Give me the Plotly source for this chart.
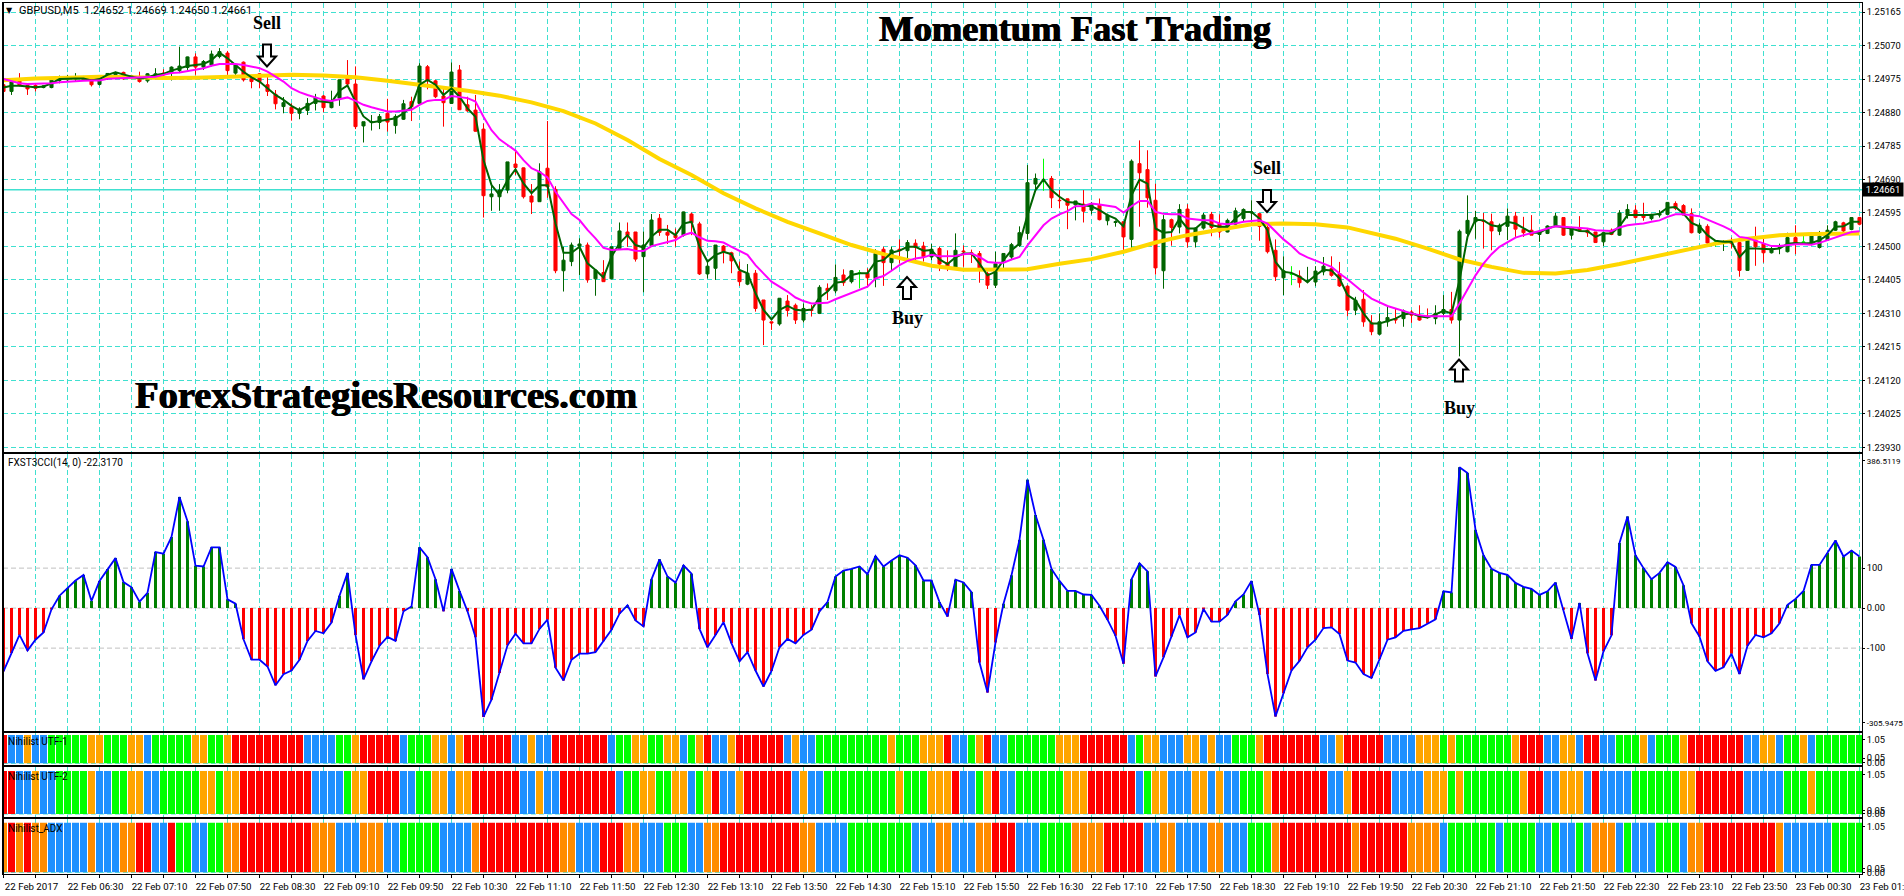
import plotly.graph_objects as go

# prices are stored in points (1e-5)
OPEN = [124959,124940,124970,124957,124957,124951,124951,124971,124973,124975,
124973,124977,124960,124977,124987,124994,124980,124980,124970,124982,
124992,124992,124999,125008,125038,125009,125015,125039,125049,124992,
125023,124977,124990,124959,124932,124897,124895,124878,124886,124906,
124927,124894,124921,124982,124961,124842,124852,124852,124878,124843,
124861,124911,124906,125010,124970,124927,124906,125001,124902,
124887,124833,124641,124641,124660,124734,124723,124643,124627,124722,
124662,124431,124457,124501,124504,124408,124426,124408,124494,124541,
124541,124471,124502,124580,124540,124532,124532,124592,124564,124422,
124438,124501,124482,124429,124393,124424,124348,124286,124280,124345,
124333,124291,124321,124310,124381,124374,124419,124400,124425,124424,
124409,124492,124454,124492,124488,124509,124501,124470,124494,124454,
124439,124487,124482,124480,124423,124390,124459,124470,124503,124537,
124677,124690,124693,124631,124635,124618,124620,124603,124617,124573,
124568,124570,124520,124735,124718,124631,124431,124576,124555,124606,
124513,124552,124591,124565,124541,124563,124579,124595,124593,124554,
124489,124411,124423,124416,124399,124399,124428,124437,124423,124387,
124319,124350,124283,124251,124286,124295,124295,124314,124305,124302,
124295,124310,124321,124291,124537,124570,124574,124570,124543,124557,
124586,124548,124546,124534,124537,124560,124582,124532,124551,124546,
124541,124513,124546,124532,124589,124603,124589,124579,124589,124591,
124622,124616,124593,124539,124557,124513,124510,124513,124511,124432,
124518,124508,124482,124497,124485,124525,124513,124506,124497,124518,
124546,124567,124548,124582]
HIGH = [124963,124970,124992,124959,124963,124957,124977,124985,124987,124992,
124984,124980,124977,124992,124996,124996,124987,124996,124992,125006,
125003,125011,125067,125039,125048,125029,125056,125063,125055,125020,
125025,124980,124992,124982,124944,124924,124906,124895,124921,124933,
124930,124942,124973,125029,125011,124854,124873,124876,124919,124875,
124916,124925,125020,125015,124973,124954,125022,125015,124925,
124930,124849,124679,124677,124740,124769,124724,124677,124736,124856,
124671,124499,124511,124523,124511,124433,124461,124499,124568,124568,
124541,124542,124592,124592,124561,124551,124599,124596,124570,124461,
124504,124504,124485,124457,124450,124433,124348,124286,124353,124362,
124338,124338,124334,124390,124395,124449,124435,124433,124433,124438,
124492,124499,124499,124520,124518,124520,124513,124507,124499,124489,
124537,124503,124491,124487,124428,124485,124480,124510,124557,124731,
124707,124749,124700,124660,124636,124629,124660,124626,124636,124593,
124574,124570,124747,124801,124773,124678,124589,124579,124620,124620,
124554,124595,124598,124591,124579,124610,124608,124631,124595,124560,
124520,124472,124444,124432,124442,124444,124470,124472,124456,124390,
124357,124376,124305,124310,124328,124324,124321,124319,124333,124324,
124333,124362,124371,124548,124645,124601,124595,124593,124565,124608,
124598,124584,124589,124546,124560,124595,124582,124556,124586,124551,
124541,124541,124551,124603,124620,124617,124624,124593,124603,124626,
124628,124620,124608,124567,124563,124518,124518,124525,124513,124522,
124556,124532,124499,124508,124539,124560,124532,124541,124544,124560,
124573,124570,124582,124584]
LOW = [124940,124930,124954,124930,124940,124949,124949,124963,124968,124968,
124971,124954,124957,124973,124980,124973,124975,124965,124965,124975,
124973,124971,124992,125001,124987,125001,125011,125034,124987,124987,
124968,124949,124949,124927,124889,124878,124857,124861,124873,124886,
124881,124892,124899,124959,124833,124795,124829,124833,124826,124820,
124859,124856,124902,124946,124921,124840,124905,124888,124882,
124826,124582,124601,124601,124651,124703,124636,124592,124627,124638,
124424,124372,124444,124419,124397,124360,124400,124407,124490,124499,
124457,124370,124499,124530,124507,124499,124528,124532,124419,124409,
124405,124452,124424,124388,124390,124315,124220,124263,124275,124301,
124280,124284,124301,124308,124348,124367,124388,124395,124381,124386,
124384,124388,124433,124452,124461,124461,124457,124461,124430,124430,
124437,124442,124453,124397,124379,124382,124432,124461,124499,124520,
124660,124658,124609,124608,124549,124574,124568,124591,124574,124560,
124556,124489,124494,124556,124610,124420,124380,124502,124537,124497,
124497,124548,124529,124525,124540,124560,124570,124565,124516,124480,
124402,124362,124390,124383,124395,124387,124418,124414,124385,124302,
124305,124272,124248,124248,124272,124281,124272,124283,124289,124295,
124279,124305,124281,124188,124527,124522,124494,124489,124532,124518,
124527,124527,124532,124513,124535,124556,124530,124520,124541,124527,
124510,124501,124532,124530,124579,124579,124573,124574,124582,124591,
124603,124589,124537,124535,124508,124499,124487,124494,124414,124431,
124445,124454,124480,124478,124483,124478,124508,124503,124494,124516,
124544,124541,124546,124560]
CLOSE = [124940,124967,124957,124947,124949,124956,124975,124980,124982,124982,
124980,124959,124975,124991,124992,124976,124985,124968,124990,124990,
124987,125009,125012,125038,125009,125025,125046,125053,124999,125015,
124973,124968,124968,124940,124905,124908,124878,124890,124906,124923,
124894,124909,124973,124961,124840,124854,124854,124869,124853,124869,
124905,124897,125012,124971,124925,124908,124995,124888,124885,
124827,124644,124649,124660,124740,124724,124641,124626,124712,124669,
124431,124461,124504,124507,124405,124433,124400,124499,124544,124531,
124464,124504,124575,124540,124532,124525,124598,124567,124422,124444,
124504,124485,124459,124400,124424,124324,124291,124283,124353,124318,
124291,124324,124318,124384,124374,124412,124397,124431,124424,124411,
124480,124454,124490,124488,124511,124497,124471,124492,124450,124444,
124489,124485,124478,124437,124390,124451,124480,124505,124539,124681,
124693,124688,124638,124630,124617,124629,124600,124620,124576,124589,
124570,124527,124742,124709,124638,124439,124576,124554,124605,124513,
124552,124589,124554,124541,124574,124601,124605,124598,124557,124485,
124414,124431,124421,124397,124404,124430,124444,124418,124388,124319,
124347,124286,124258,124286,124298,124291,124317,124305,124291,124298,
124310,124321,124291,124543,124574,124582,124571,124544,124560,124586,
124549,124539,124532,124543,124558,124586,124532,124551,124544,124539,
124511,124539,124534,124595,124605,124582,124582,124591,124593,124625,
124608,124589,124539,124560,124510,124508,124513,124508,124432,124518,
124499,124482,124494,124499,124525,124508,124510,124532,124529,124546,
124570,124544,124582,124563]
DOJI_BARS = [107, 130, 161, 214, 225]

FAST_MA = [124951,124956,124956,124954,124952,124954,124963,124975,124977,124977,
124977,124971,124975,124987,124994,124987,124982,124977,124980,124987,
124990,124999,125006,125012,125015,125018,125029,125050,125034,125015,
124996,124980,124968,124949,124930,124916,124899,124886,124899,124913,
124911,124909,124942,124957,124911,124869,124852,124856,124861,124864,
124878,124897,124959,124973,124959,124930,124949,124925,124892,
124868,124745,124674,124646,124688,124719,124679,124651,124674,124674,
124565,124482,124482,124499,124452,124433,124412,124471,124509,124532,
124504,124497,124528,124547,124547,124532,124565,124570,124499,124457,
124476,124485,124478,124433,124424,124367,124320,124293,124320,124331,
124320,124318,124321,124355,124372,124397,124400,124419,124424,124424,
124457,124461,124482,124488,124499,124499,124488,124490,
124463,124450,124469,124480,124480,124451,124418,124428,124461,124489,
124508,124589,124660,124690,124660,124641,124626,124624,124617,124614,
124603,124589,124579,124557,124645,124690,124678,124551,124539,124541,
124579,124551,124551,124570,124560,124556,124556,124579,124598,124598,
124579,124546,124456,124428,124425,124414,124399,124418,124434,124432,
124409,124362,124347,124310,124281,124281,124289,124295,
124307,124310,124302,124298,124307,124317,124310,124404,124527,124576,
124574,124560,124556,124570,124565,124551,124539,124539,124551,124558,
124554,124551,124544,124543,124527,124537,124537,124557,124589,124589,
124589,124589,124593,124610,124612,124593,124567,124557,124532,124516,
124513,124513,124470,124494,124494,124492,124492,124494,124508,124510,
124508,124510,124518,124532,124556,124557,124570,124570]
SLOW_MA = [124975,124968,124963,124961,124961,124961,124963,124966,124968,124968,
124970,124971,124971,124976,124977,124979,124980,124980,124980,124982,
124987,124992,124994,124998,125003,125006,125013,125018,125018,125018,
125015,125011,125006,124996,124982,124968,124949,124938,124930,124924,
124916,124913,124918,124923,124913,124902,124895,124889,124883,124883,
124885,124888,124902,124913,124916,124916,124927,124925,124921,
124911,124868,124830,124804,124788,124772,124745,124722,124712,124696,
124655,124622,124592,124575,124547,124523,124496,124490,124492,124493,
124488,124487,124501,124507,124512,124518,124532,124539,124526,124516,
124515,124511,124499,124488,124476,124447,124424,124400,124386,124372,
124355,124345,124338,124338,124340,124350,124359,124369,124378,124386,
124409,124416,124431,124447,124459,124466,124469,124476,
124472,124472,124473,124478,124480,124470,124456,124454,124454,124463,
124470,124503,124532,124560,124579,124591,124600,124614,124615,124622,
124619,124615,124612,124596,124614,124629,124629,124598,124593,124591,
124591,124579,124576,124574,124574,124565,124563,124565,124570,124573,
124574,124565,124541,124520,124502,124480,124469,124459,124451,124442,
124423,124407,124387,124369,124352,124341,124331,124324,
124316,124310,124305,124302,124302,124302,124302,124338,124380,124418,
124451,124478,124499,124513,124525,124532,124537,124544,124551,124557,
124556,124554,124554,124551,124546,124544,124544,124554,124560,124563,
124565,124570,124574,124584,124591,124591,124589,124586,124576,124567,
124557,124546,124527,124524,124516,124508,124501,124501,124504,124506,
124506,124505,124510,124518,124525,124532,124541,124543]
BASE_BARS = [0,4,8,12,16,20,24,28,32,36,40,44,48,52,56,58,62,66,70,74,78,82,86,90,94,98,102,106,110,114,116,
120,124,128,132,136,140,144,148,152,156,160,164,168,172,174,178,182,186,190,194,198,202,206,210,214,218,222,226,230,232]
BASE_MA = [124972,124977,124979,124982,124980,124978,124979,124982,124985,124987,124985,124980,124970,124959,124949,124942,
124928,124909,124884,124849,124802,124748,124703,124651,124608,124570,124537,124504,124478,124457,124445,
124434,124434,124435,124451,124464,124485,124511,124532,124548,124563,124565,124563,124554,124534,124522,
124494,124463,124442,124425,124423,124433,124450,124470,124489,124508,124522,124532,124535,124537,124537]

CCI = [-158,-112,-67,-106,-79,-61,-3,31,50,69,83,18,68,98,125,65,52,16,38,140,
136,178,278,217,106,104,152,152,22,11,-78,-129,-129,-146,-193,-165,-156,-129,-82,-57,
-63,-36,31,88,-67,-178,-133,-94,-72,-82,-8,4,152,127,72,-8,98,43,-8,-73,
-272,-229,-162,-93,-64,-88,-88,-52,-29,-149,-181,-129,-114,-114,-110,-83,-54,-14,7,-31,
-46,72,122,79,64,107,86,-52,-98,-67,-35,-88,-133,-110,-156,-196,-157,-98,-77,-88,
-67,-54,-8,15,79,94,98,104,85,130,104,119,132,126,107,69,69,15,-21,71,
64,40,-136,-211,-86,11,82,171,321,233,171,98,68,43,43,34,33,6,-29,-69,
-139,72,112,92,-171,-123,-71,-18,-73,-61,-2,-34,-34,-17,17,34,68,-17,-165,-271,
-213,-156,-132,-98,-79,-50,-48,-65,-131,-136,-165,-175,-128,-79,-73,-57,-53,-50,-39,-28,
42,39,352,338,196,132,98,88,83,63,53,48,33,42,64,-4,-77,13,-113,-181,
-108,-68,163,229,132,100,72,88,115,103,57,-38,-71,-133,-157,-148,-114,-165,-94,-67,
-73,-63,-38,8,23,43,108,108,138,169,129,144,129]

UTF1 = ("RBBOBBLLLL" "LOOLLLOOBL" "LLLLOOLLOR" "RRRRRRRRBB" "BBLLORRRRR" "BLLLOOBORR"
        "RRRRBBOBBR" "RRRRRRBLLO" "OLLOOBLORB" "BORRRRRRBO" "BBLLLLLLLL" "LOLLLOOORB"
        "BLORBBLLLL" "LLOOORRRRR" "RBLOOBBBOO" "BOBBLLLORR" "RRRRRBBORR" "RRRBBBBOOO"
        "LOLLLLLLLO" "RRRBBOOBRR" "BBLLLOBLLL" "ORRRRRRRBB" "OOBLLOBLLL" "LLL")
UTF2 = ("RRBBOBBLLL" "LOBBLLOOBB" "LLLLLOOLOO" "RRRRRRRRRB" "BBBLOORRRR" "BBLLOOBOOR"
        "RRRRRBBOBB" "RRRRRRRBLL" "OOLLOOBLOR" "BBORRRRRRB" "OBBLLLLLLL" "LLOLLLOOOR"
        "BBLORBBLLL" "LLLOOORRRR" "RRBLOOBBBO" "OBOBBLLLOR" "RRRRRRBBOR" "RRRRBBBBOO"
        "OLOLLLLLLL" "ORRBBOOOBR" "BBBBLLLLLL" "OORRRRRRBB" "BBBLLLOLLL" "LLL")
ADX = ("OROROOBBBB" "BOBBBOORRB" "BRLLBBLLOO" "RRRRRRRRRO" "OOBBBOOOBB" "LLLLLBBBBO"
       "RRRRRRRRRR" "OOBBBRRROO" "BBBLLLBBOO" "RRRRRRRRRR" "OOBBBBLLLL" "LLLLBBBOOB"
       "BBOORRRBBB" "LLLLOOOORR" "RRRBBOOBBB" "BOOBBBLLLO" "RRRRRRRRRO" "RRRRRROOOO"
       "BLLLLLLBLL" "LLBBLBBLBO" "OOBLBBBLLL" "BOORRRRRRR" "RROBBBBBBL" "LLL")
STRIP_TOP = 1.05
STRIP_BASE = 0.05

TIME_LABELS = ["22 Feb 2017","22 Feb 06:30","22 Feb 07:10","22 Feb 07:50","22 Feb 08:30","22 Feb 09:10",
"22 Feb 09:50","22 Feb 10:30","22 Feb 11:10","22 Feb 11:50","22 Feb 12:30","22 Feb 13:10","22 Feb 13:50",
"22 Feb 14:30","22 Feb 15:10","22 Feb 15:50","22 Feb 16:30","22 Feb 17:10","22 Feb 17:50","22 Feb 18:30",
"22 Feb 19:10","22 Feb 19:50","22 Feb 20:30","22 Feb 21:10","22 Feb 21:50","22 Feb 22:30","22 Feb 23:10",
"22 Feb 23:50","23 Feb 00:30","23 Feb 01:10"]
PRICE_TICKS = [1.25165,1.25070,1.24975,1.24880,1.24785,1.24690,1.24595,1.24500,1.24405,1.24310,1.24215,1.24120,1.24025,1.23930]
LAST_PRICE = 1.24661

for name, arr in dict(OPEN=OPEN,HIGH=HIGH,LOW=LOW,CLOSE=CLOSE,FAST_MA=FAST_MA,SLOW_MA=SLOW_MA,CCI=CCI,UTF1=UTF1,UTF2=UTF2,ADX=ADX).items():
    if len(arr) != 233:
        raise SystemExit(f"{name} has {len(arr)}")
if len(BASE_BARS) != len(BASE_MA):
    raise SystemExit(f"base {len(BASE_BARS)} {len(BASE_MA)}")

N = 233
X = list(range(N))
pr = lambda a: [v / 1e5 for v in a]
TURQ = "#40E0D0"
DGREEN = "#006400"
COLORS_A = {"R": "#FF0000", "B": "#1E90FF", "O": "#FFA500", "L": "#00FF00"}
COLORS_B = {"R": "#FF0000", "B": "#1E90FF", "O": "#FF8C00", "L": "#00FF00"}
FONT = "Roboto, Liberation Sans, sans-serif"
W, H = 1904, 896
dom = lambda top, bot: [1 - bot / H, 1 - top / H]

fig = go.Figure()
normal = [i for i in X if i not in DOJI_BARS]
fig.add_trace(go.Candlestick(
    x=normal, open=[OPEN[i]/1e5 for i in normal], high=[HIGH[i]/1e5 for i in normal],
    low=[LOW[i]/1e5 for i in normal], close=[CLOSE[i]/1e5 for i in normal],
    increasing=dict(line=dict(color=DGREEN, width=1), fillcolor=DGREEN),
    decreasing=dict(line=dict(color="#FF0000", width=1), fillcolor="#FF0000"),
    whiskerwidth=0, xaxis="x", yaxis="y", showlegend=False))
fig.add_trace(go.Candlestick(
    x=DOJI_BARS, open=[OPEN[i]/1e5 for i in DOJI_BARS], high=[HIGH[i]/1e5 for i in DOJI_BARS],
    low=[LOW[i]/1e5 for i in DOJI_BARS], close=[CLOSE[i]/1e5 for i in DOJI_BARS],
    increasing=dict(line=dict(color="#00FF00", width=1), fillcolor="#00FF00"),
    decreasing=dict(line=dict(color="#00FF00", width=1), fillcolor="#00FF00"),
    whiskerwidth=0, xaxis="x", yaxis="y", showlegend=False))
fig.add_trace(go.Scatter(x=BASE_BARS, y=pr(BASE_MA), mode="lines", line=dict(color="#FFD700", width=4), xaxis="x", yaxis="y", showlegend=False))
fig.add_trace(go.Scatter(x=X, y=pr(FAST_MA), mode="lines", line=dict(color=DGREEN, width=2), xaxis="x", yaxis="y", showlegend=False))
fig.add_trace(go.Scatter(x=X, y=pr(SLOW_MA), mode="lines", line=dict(color="#FF00FF", width=2), xaxis="x", yaxis="y", showlegend=False))

fig.add_trace(go.Bar(x=X, y=CCI, width=0.375, marker=dict(color=["#008000" if v > 0 else "#FF0000" for v in CCI], line_width=0),
                     xaxis="x2", yaxis="y2", showlegend=False))
fig.add_trace(go.Scatter(x=X, y=CCI, mode="lines", line=dict(color="#0000FF", width=1.8), xaxis="x2", yaxis="y2", showlegend=False))

for i, (codes, cmap) in enumerate([(UTF1, COLORS_A), (UTF2, COLORS_A), (ADX, COLORS_B)]):
    fig.add_trace(go.Bar(x=X, y=[STRIP_TOP - STRIP_BASE] * N, base=STRIP_BASE, width=0.875,
                         marker=dict(color=[cmap[c] for c in codes], line_width=0),
                         xaxis=f"x{i+3}", yaxis=f"y{i+3}", showlegend=False))

gridticks = list(range(0, N, 4))
ticktext = [TIME_LABELS[k // 8] if k % 8 == 0 else "" for k in gridticks]
xrange = [(3 - 3.5) / 8, (1862 - 3.5) / 8]
xbase = dict(range=xrange, tickmode="array", tickvals=gridticks, ticktext=[""] * len(gridticks),
             showgrid=True, gridcolor=TURQ, griddash="5px,3px", gridwidth=1, zeroline=False, automargin=False,
             showline=True, linecolor="black", linewidth=1, mirror=True, ticks="", domain=[3 / W, 1862 / W],
             rangeslider=dict(visible=False), showticklabels=False)
ybase = dict(side="right", showline=True, linecolor="black", linewidth=1, mirror=True, ticks="outside", ticklen=2, automargin=False,
             tickcolor="black", zeroline=False, tickfont=dict(family=FONT, size=9.3, color="black"), showgrid=False)

layout = dict(width=W, height=H, margin=dict(l=0, r=0, t=0, b=0), paper_bgcolor="white", plot_bgcolor="white",
              barmode="overlay", boxgap=0.45, autosize=False, hovermode=False, showlegend=False)
layout["xaxis"] = dict(xbase, anchor="y")
layout["xaxis2"] = dict(xbase, anchor="y2", matches="x")
layout["xaxis3"] = dict(xbase, anchor="y3", matches="x")
layout["xaxis4"] = dict(xbase, anchor="y4", matches="x")
layout["xaxis5"] = dict(xbase, anchor="y5", matches="x", ticks="outside", ticklen=3, tickcolor="black",
                        showticklabels=True, ticktext=ticktext, ticklabelshift=28, ticklabeloverflow="allow",
                        tickangle=0, tickfont=dict(family=FONT, size=9.7, color="black"))
layout["yaxis"] = dict(ybase, domain=dom(3, 451.5), range=[1.239179, 1.25191], anchor="x", tickmode="array",
                       tickvals=PRICE_TICKS, ticktext=[f"{v:.5f}" for v in PRICE_TICKS],
                       showgrid=True, gridcolor=TURQ, griddash="5px,3px", gridwidth=1)
SMALL = '<span style="font-size:8px">{}</span>'
layout["yaxis2"] = dict(ybase, domain=dom(453.5, 730.5), range=[-305.9475, 386.5119], anchor="x2", tickmode="array",
                        tickvals=[369, 100, 0, -100, -286.8],
                        ticktext=[SMALL.format("386.5119"), "100", "0.00", "-100", SMALL.format("-305.9475")])
layout["yaxis3"] = dict(ybase, domain=dom(732.7, 765.3), range=[-0.02, 1.131], anchor="x3", tickmode="array",
                        tickvals=[0.884, 0.237, 0.07], ticktext=["1.05", "0.05", "0.00"])
layout["yaxis4"] = dict(ybase, domain=dom(767.3, 816.7), range=[-0.013, 1.136], anchor="x4", tickmode="array",
                        tickvals=[0.973, 0.127, 0.05], ticktext=["1.05", "0.05", "0.00"])
layout["yaxis5"] = dict(ybase, domain=dom(819.3, 874.3), range=[0.01, 1.119], anchor="x5", tickmode="array",
                        tickvals=[0.97, 0.13, 0.05], ticktext=["1.05", "0.05", "0.00"])
fig.update_layout(**layout)

shapes = [dict(type="line", xref="x", yref="y", x0=xrange[0], x1=xrange[1], y0=LAST_PRICE, y1=LAST_PRICE,
               line=dict(color=TURQ, width=1.5), layer="between")]
for lv in (100, 0, -100):
    shapes.append(dict(type="line", xref="x2", yref="y2", x0=xrange[0], x1=xrange[1], y0=lv, y1=lv,
                       line=dict(color="#C0C0C0", width=1, dash="5px,3px"), layer="between"))
for n in (3, 4, 5):
    shapes.append(dict(type="line", xref=f"x{n}", yref=f"y{n}", x0=xrange[0], x1=xrange[1], y0=STRIP_BASE, y1=STRIP_BASE,
                       line=dict(color=TURQ, width=1, dash="5px,3px"), layer="between"))
shapes.append(dict(type="line", xref="paper", yref="paper", x0=3 / W, x1=3 / W, y0=1 - 874.3 / H, y1=1 - 3 / H,
                   line=dict(color="black", width=2)))


def arrow(px, py, down):
    s = -1 if not down else 1
    pts = [(-4, 11), (4, 11), (4, -1), (9, -1), (0, -11), (-9, -1), (-4, -1)]
    path = "M" + " L".join(f"{x},{y * s}" for x, y in pts) + " Z"
    shapes.append(dict(type="path", xref="paper", yref="paper", xsizemode="pixel", ysizemode="pixel",
                       xanchor=px / W, yanchor=1 - py / H, path=path, fillcolor="white",
                       line=dict(color="black", width=2), layer="above"))


arrow(267, 55.5, True)
arrow(907, 288, False)
arrow(1267, 201, True)
arrow(1459, 370.5, False)
fig.update_layout(shapes=shapes)


def note(text, px, py, size, family=FONT, bold=False, color="black", anchor="left", shadow=None, **kw):
    txt = f"<b>{text}</b>" if bold else text
    f = dict(family=family, size=size, color=color)
    if shadow:
        f["shadow"] = shadow
    fig.add_annotation(text=txt, xref="paper", yref="paper", x=px / W, y=1 - py / H, xanchor=anchor, yanchor="middle",
                       showarrow=False, font=f, borderpad=0, **kw)


SERIF = "Liberation Serif, serif"
note("▼", 9, 10.5, 8, family="DejaVu Sans", anchor="center")
note("GBPUSD,M5\u00a0\u00a01.24652 1.24669 1.24650 1.24661", 18, 10.7, 11)
note("FXST3CCI(14, 0) -22.3170", 7.3, 462.7, 10)
note("Nihilist UTF-1", 7, 741.7, 10)
note("Nihilist UTF-2", 7, 776.7, 10)
note("Nihilist_ADX", 7, 828.7, 10)
HEAVY = "0.7px 0 0 #000, -0.4px 0 0 #000"
note("Momentum Fast Trading", 1075, 28, 36.5, family=SERIF, bold=True, anchor="center", shadow=HEAVY)
note("ForexStrategiesResources.com", 386, 395, 38.5, family=SERIF, bold=True, anchor="center", shadow=HEAVY)
note("Sell", 267, 23, 18, family=SERIF, bold=True, anchor="center")
note("Buy", 907, 318, 18, family=SERIF, bold=True, anchor="center")
note("Sell", 1267, 168, 18, family=SERIF, bold=True, anchor="center")
note("Buy", 1459, 408, 18, family=SERIF, bold=True, anchor="center")
fig.add_annotation(text=f"{LAST_PRICE:.5f}", xref="paper", yref="y", x=1904 / W, y=LAST_PRICE, xanchor="right", yanchor="middle",
                   showarrow=False, font=dict(family=FONT, size=9.5, color="white"), bgcolor="black", borderpad=1, width=38, align="center")

fig.write_html("out.html", config={"displayModeBar": False},
               post_script="document.body.style.margin='0';document.body.style.overflow='hidden';")
